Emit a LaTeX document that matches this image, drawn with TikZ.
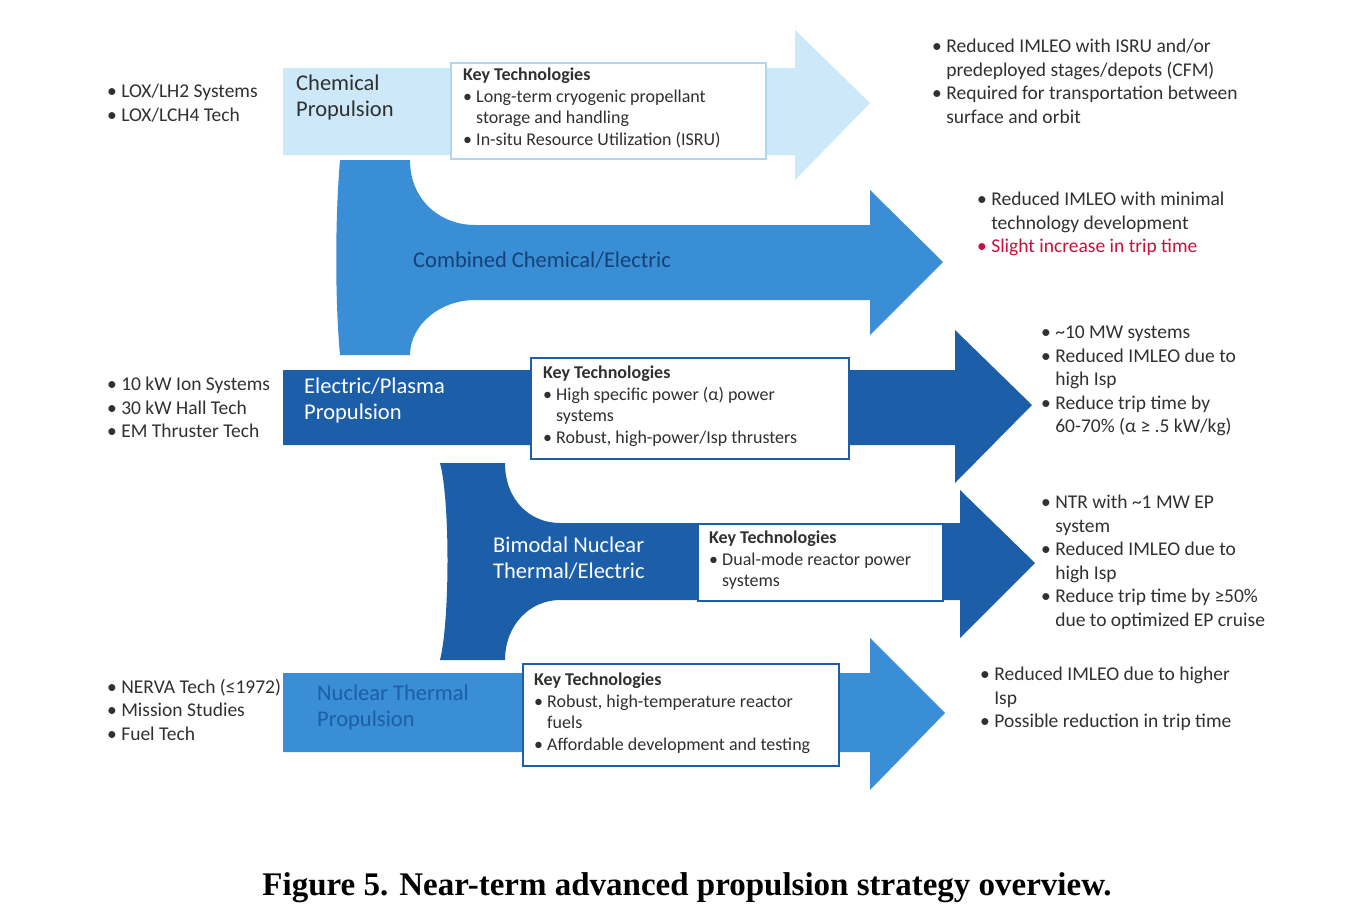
\documentclass[tikz,border=0pt]{standalone}
\usepackage{fontspec}
\setmainfont{Carlito}
\newfontfamily\capfont{Liberation Serif}
\definecolor{lb}{HTML}{CDE8F8}
\definecolor{mb}{HTML}{3A8ED6}
\definecolor{db}{HTML}{1C5EA8}
\definecolor{rd}{HTML}{C8103B}
\definecolor{tx}{HTML}{303030}
\begin{document}
\begin{tikzpicture}[x=1pt,y=-1pt,
  txt/.style={font=\fontsize{19.5}{23.5}\selectfont,text=tx,align=left,anchor=north west,inner sep=0pt},
  lab/.style={font=\fontsize{22.5}{26}\selectfont,align=left,anchor=north west,inner sep=0pt},
  ktbox/.style={draw=db,line width=2pt,fill=white,anchor=north west,inner sep=0pt},
  kt/.style={font=\fontsize{18}{21.5}\selectfont,text=tx,align=left,anchor=north west,inner sep=0pt}]
\useasboundingbox (0,0) rectangle (1368,916);
% chemical
\fill[lb] (283,68) -- (795,68) -- (795,30) -- (870,103) -- (795,180) -- (795,155) -- (283,155) -- cycle;
% combined
\fill[mb] (340,160) -- (410,160) .. controls (410,200) and (440,225) .. (475,225) -- (870,225) -- (870,190) -- (943,262) -- (870,335) -- (870,300) -- (475,300) .. controls (440,300) and (410,325) .. (410,355) -- (340,355) .. controls (335,300) and (335,220) .. (340,160) -- cycle;
% electric
\fill[db] (283,370) -- (955,370) -- (955,330) -- (1032,405) -- (955,483) -- (955,445) -- (283,445) -- cycle;
% bimodal
\fill[db] (440,463) -- (505,463) .. controls (505,500) and (530,523) .. (560,523) -- (960,523) -- (960,490) -- (1035,563) -- (960,638) -- (960,600) -- (560,600) .. controls (530,600) and (505,625) .. (505,660) -- (440,660) .. controls (450,620) and (450,500) .. (440,463) -- cycle;
% nuclear
\fill[mb] (283,673) -- (870,673) -- (870,638) -- (945,713) -- (870,790) -- (870,752) -- (283,752) -- cycle;

% boxes
\node[ktbox,draw=lb!80!mb,minimum width=315pt,minimum height=96pt] (b1) at (450,62) {};
\node[kt] (k1) at (463,68) {\textbf{Key Technologies}\\ \textbullet\ Long-term cryogenic propellant\\ \phantom{\textbullet\ }storage and handling\\ \textbullet\ In-situ Resource Utilization (ISRU)};
\node[ktbox,minimum width=318pt,minimum height=101pt] (b2) at (530,357) {};
\node[kt] (k2) at (543,366) {\textbf{Key Technologies}\\ \textbullet\ High specific power (α) power\\ \phantom{\textbullet\ }systems\\ \textbullet\ Robust, high-power/Isp thrusters};
\node[ktbox,minimum width=245pt,minimum height=77pt] (b3) at (697,523) {};
\node[kt] (k3) at (709,531) {\textbf{Key Technologies}\\ \textbullet\ Dual-mode reactor power\\ \phantom{\textbullet\ }systems};
\node[ktbox,minimum width=316pt,minimum height=102pt] (b4) at (522,663) {};
\node[kt] (k4) at (534,673) {\textbf{Key Technologies}\\ \textbullet\ Robust, high-temperature reactor\\ \phantom{\textbullet\ }fuels\\ \textbullet\ Affordable development and testing};

% arrow labels
\node[lab,text=tx] (l1) at (296,75) {Chemical\\Propulsion};
\node[lab,text=db!70!black] (l2) at (413,252) {Combined Chemical/Electric};
\node[lab,text=white] (l3) at (304,378) {Electric/Plasma\\Propulsion};
\node[lab,text=white] (l4) at (493,537) {Bimodal Nuclear\\Thermal/Electric};
\node[lab,text=db] (l5) at (317,685) {Nuclear Thermal\\Propulsion};

% left lists
\node[txt] (p1) at (107,84) {\textbullet\ LOX/LH2 Systems\\ \textbullet\ LOX/LCH4 Tech};
\node[txt] (p3) at (107,377) {\textbullet\ 10 kW Ion Systems\\ \textbullet\ 30 kW Hall Tech\\ \textbullet\ EM Thruster Tech};
\node[txt] (p5) at (107,679) {\textbullet\ NERVA Tech (≤1972)\\ \textbullet\ Mission Studies\\ \textbullet\ Fuel Tech};

% right lists
\node[txt] (r1) at (932,39) {\textbullet\ Reduced IMLEO with ISRU and/or\\ \phantom{\textbullet\ }predeployed stages/depots (CFM)\\ \textbullet\ Required for transportation between\\ \phantom{\textbullet\ }surface and orbit};
\node[txt] (r2) at (977,192) {\textbullet\ Reduced IMLEO with minimal\\ \phantom{\textbullet\ }technology development\\ \textcolor{rd}{\textbullet\ Slight increase in trip time}};
\node[txt] (r3) at (1041,326) {\textbullet\ \textasciitilde10 MW systems\\ \textbullet\ Reduced IMLEO due to\\ \phantom{\textbullet\ }high Isp\\ \textbullet\ Reduce trip time by\\ \phantom{\textbullet\ }60-70\% (α ≥ .5 kW/kg)};
\node[txt] (r4) at (1041,495) {\textbullet\ NTR with \textasciitilde1 MW EP\\ \phantom{\textbullet\ }system\\ \textbullet\ Reduced IMLEO due to\\ \phantom{\textbullet\ }high Isp\\ \textbullet\ Reduce trip time by ≥50\%\\ \phantom{\textbullet\ }due to optimized EP cruise};
\node[txt] (r5) at (980,667) {\textbullet\ Reduced IMLEO due to higher\\ \phantom{\textbullet\ }Isp\\ \textbullet\ Possible reduction in trip time};

\node[font=\capfont\bfseries\fontsize{33}{36}\selectfont,inner sep=0pt] (cap) at (687,888) {Figure 5. Near-term advanced propulsion strategy overview.};
\end{tikzpicture}
\end{document}
